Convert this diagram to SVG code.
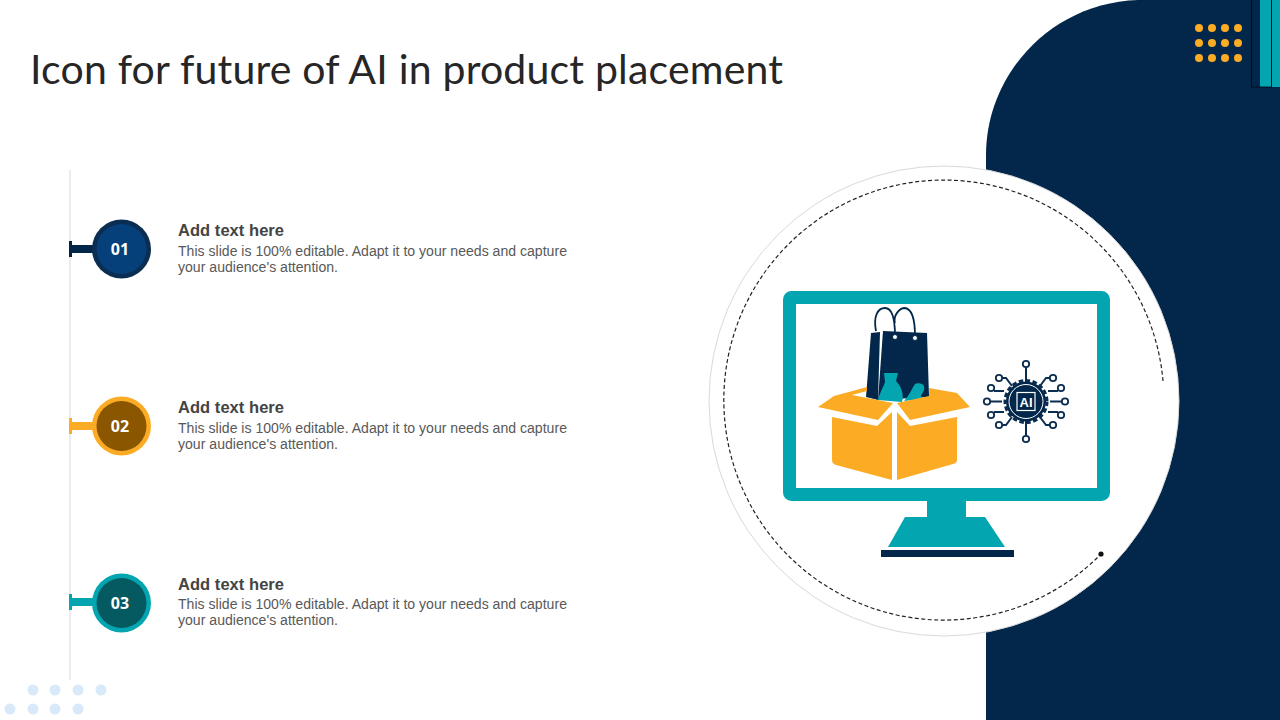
<svg xmlns="http://www.w3.org/2000/svg" width="1280" height="720" viewBox="0 0 1280 720">
<style>
.h{font:700 16.500px "Liberation Sans",Arial,sans-serif;fill:#444}
.b{font:14.080px "Liberation Sans",Arial,sans-serif;fill:#595959}
.n{font:700 16px "Open Sans","Liberation Sans",sans-serif;fill:#fff;text-anchor:middle}
.o{fill:#fcab25}.t{fill:#03a6b0}.d{fill:#02274a}.l{fill:#d8e9f9}
.c{fill:none;stroke:#0b2d50;stroke-width:2}
.e{fill:#fff;stroke:#0b2d50;stroke-width:1.800}
</style>
<rect width="1280" height="720" fill="#fff"/>
<g id="backdrop">
<path class="d" d="M1280 0H1138C1050 3 986 75 986 155V720H1280Z"/>
<rect x="1251.500" y="-1" width="20" height="88" fill="#02274a" stroke="#000c20"/>
<rect class="t" x="1260" y="0" width="11" height="86.500"/>
<rect class="t" x="1272" y="0" width="8" height="87"/>
<g class="o"><circle cx="1199" cy="28" r="4"/><circle cx="1212" cy="28" r="4"/><circle cx="1225" cy="28" r="4"/><circle cx="1238" cy="28" r="4"/><circle cx="1199" cy="43" r="4"/><circle cx="1212" cy="43" r="4"/><circle cx="1225" cy="43" r="4"/><circle cx="1238" cy="43" r="4"/><circle cx="1199" cy="58" r="4"/><circle cx="1212" cy="58" r="4"/><circle cx="1225" cy="58" r="4"/><circle cx="1238" cy="58" r="4"/></g>
<g class="l"><circle cx="33" cy="690" r="5.500"/><circle cx="55" cy="690" r="5.500"/><circle cx="78" cy="690" r="5.500"/><circle cx="101" cy="690" r="5.500"/><circle cx="10" cy="709" r="5.500"/><circle cx="33" cy="709" r="5.500"/><circle cx="55" cy="709" r="5.500"/><circle cx="78" cy="709" r="5.500"/></g>
</g>
<text id="title" x="30" y="84" font-family="Lato,'Liberation Sans',sans-serif" font-weight="400" font-size="41" fill="#262626" textLength="753" lengthAdjust="spacing">Icon for future of AI in product placement</text>
<g id="connectors">
<rect x="69" y="170" width="2" height="510" fill="#ececec"/>
<path d="M69 241h3v4h21v8h-21v4h-3z" fill="#02274a"/>
<path d="M69 418h3v4h21v8h-21v4h-3z" fill="#fcab25"/>
<path d="M69 594h3v4h21v8h-21v4h-3z" fill="#03a6b0"/>
</g>
<g id="node-01"><circle cx="121.500" cy="249" r="29.500" fill="#0a2d52"/><circle cx="121.500" cy="249" r="25" fill="#05407a"/><text class="n" x="120" y="255">01</text>
<text class="h" x="178" y="236" textLength="106">Add text here</text><text class="b" x="178" y="256">This slide is 100% editable. Adapt it to your needs and capture</text><text class="b" x="178" y="272">your audience's attention.</text></g>
<g id="node-02"><circle cx="121.500" cy="426" r="29.500" fill="#fcab25"/><circle cx="121.500" cy="426" r="25" fill="#8a5600"/><text class="n" x="120" y="432">02</text>
<text class="h" x="178" y="413" textLength="106">Add text here</text><text class="b" x="178" y="433">This slide is 100% editable. Adapt it to your needs and capture</text><text class="b" x="178" y="449">your audience's attention.</text></g>
<g id="node-03"><circle cx="121.500" cy="603" r="29.500" fill="#03a6b0"/><circle cx="121.500" cy="603" r="25" fill="#055a62"/><text class="n" x="120" y="609">03</text>
<text class="h" x="178" y="590" textLength="106">Add text here</text><text class="b" x="178" y="609">This slide is 100% editable. Adapt it to your needs and capture</text><text class="b" x="178" y="625">your audience's attention.</text></g>
<g id="illustration">
<circle cx="944" cy="401" r="235" fill="#fff" stroke="#d9d9d9"/>
<path d="M1163 381A220 220 0 1 0 1101 554" fill="none" stroke="#222" stroke-width="1.200" stroke-dasharray="4 2.500"/>
<circle cx="1101" cy="554" r="2.600" fill="#111"/>
<rect x="789.500" y="297.500" width="314" height="197" rx="2" fill="#fff" stroke="#03a6b0" stroke-width="13"/>
<path class="t" d="M927 501h39v16h19l20 30H888l17-30h22z"/>
<rect class="d" x="881" y="550" width="133" height="7"/>
<path d="M876 331C873 316 878 308 885 308C892 308 895 318 895 336M895 323C893 316 899 308 905 308C912 309 915 320 915 336" fill="none" stroke="#02274a" stroke-width="1.800"/>
<path class="d" d="M871 333L880 332L878 400L866 397Z"/>
<path class="d" d="M883 331L927 333L929 397L878 400Z"/>
<circle cx="895" cy="337" r="2.500" fill="#fff" stroke="#02274a"/><circle cx="915" cy="338" r="2.500" fill="#fff" stroke="#02274a"/>
<path class="t" d="M884 373H898L896 381C902 387 904 396 902 402L878 400C880 392 884 386 885 382Z"/>
<path class="t" d="M904 401C909 396 911 390 915 384C920 382 926 385 924 390L921 396L922 399Z"/>
<path class="o" d="M818 407L834 396L867 387V391L852 395L893 403L878 420Z"/>
<path class="o" d="M897 403L929 396V388L957 393L970 407L910 420Z"/>
<path class="o" d="M832 417L877 426L892 412V480L836 465Q832 464 832 460Z"/>
<path class="o" d="M897 412L910 426L957 417V460Q957 463 953 464L897 480Z"/>
</g>
<g id="ai-chip">
<g class="c"><path d="M1026 382V367M1026 421V436M1012 386L1006 378H1001M1040 386L1046 378H1051M1012 417L1006 425H1001M1040 417L1046 425H1051M1004 391H994M1048 391H1058M1004 412H994M1048 412H1058M1002 401.500H990M1050 401.500H1062"/></g>
<g class="e"><circle cx="1026" cy="364" r="3.200"/><circle cx="1026" cy="439" r="3.200"/><circle cx="999" cy="378" r="3.200"/><circle cx="1053" cy="378" r="3.200"/><circle cx="999" cy="425" r="3.200"/><circle cx="1053" cy="425" r="3.200"/><circle cx="991" cy="388" r="3.200"/><circle cx="1061" cy="388" r="3.200"/><circle cx="991" cy="415" r="3.200"/><circle cx="1061" cy="415" r="3.200"/><circle cx="987" cy="401.500" r="3.200"/><circle cx="1065" cy="401.500" r="3.200"/></g>
<circle cx="1026" cy="401.500" r="21" fill="none" stroke="#0b2d50" stroke-width="3" stroke-dasharray="4.500 2.500"/>
<circle class="d" cx="1026" cy="401.500" r="20"/>
<circle cx="1026" cy="401.500" r="17" fill="none" stroke="#fff" stroke-width="1"/>
<rect x="1017" y="392.500" width="18" height="18" fill="#02274a" stroke="#fff" stroke-width="1.200"/>
<text x="1026" y="406.500" font-family="'Liberation Sans',sans-serif" font-weight="700" font-size="13" fill="#fff" text-anchor="middle">AI</text>
</g>
</svg>
